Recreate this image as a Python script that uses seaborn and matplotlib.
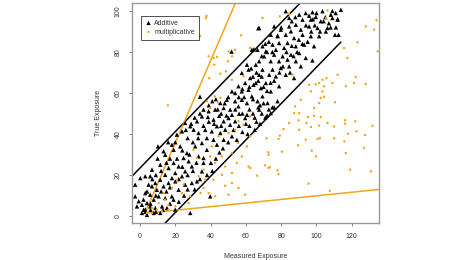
import matplotlib
matplotlib.use("Agg")
import matplotlib.pyplot as plt
import seaborn as sns
import pandas as pd

# Additive error points (black triangles)
add_x = [38.5, 41.7, 44.9, 47.4, 50.2, 52.1, 53.9, 56.2, 43.6, 40.7, 45.5, 48.3, 37.9, 33.2, 30.4, 28.5,
         32.3, 35.1, 25.6, 23.8, 20.9, 18.1, 10.2, 13.4, 19.1, 22.8, 26.6, 24.7, 27.6, 31.3, 35.1, 37.9,
         36.0, 29.4, 25.6, 21.9, 19.1, 16.2, 20.0, 23.8, 18.1, 14.3, 11.5, 8.7, 6.8, 4.9, 3.0, 5.8,
         9.6, 13.4, 16.2, 20.0, 21.9, 18.1, 14.3, 10.6, 7.8, 4.0, 1.1, -0.7, -2.7, -1.7, 3.0, 5.8,
         8.7, 12.5, 15.3, 20.0, 1.1, 4.0, 7.8, 11.5, 2.1, 28.5, 39.8, 32.3, 35.1, 29.4, 25.6, 33.2,
         41.7, 43.6, 47.4, 52.1, 54.9, 51.1, 59.6, 60.6, 40.2, 36.0, 14.3, 11.5, 6.8, 3.0, 5.8, 0.2,
         -2.7,
         63.4, 60.6, 61.5, 57.7, 62.4, 59.6, 55.8, 52.1, 57.7, 61.5, 49.2, 53.9, 45.5, 42.6, 47.4, 38.9,
         36.0, 51.1, 55.8, 60.6, 63.4, 57.7, 64.3, 53.9, 51.9, 34.0, 67.0, 64.5, 62.0, 65.0, 58.0, 68.0,
         64.0, 60.0,
         82.6, 90.2, 93.9, 95.8, 97.7, 99.6, 103.4, 108.1, 110.9, 113.8, 111.9, 109.0, 102.4, 96.8, 92.1, 88.3,
         84.5, 79.8, 76.0, 74.1, 77.9, 82.6, 85.5, 91.1, 95.8, 100.6, 106.2, 105.3, 110.5, 112.5, 101.5, 96.8,
         92.1, 87.3, 83.6, 78.8, 75.1, 69.4, 67.5, 66.6, 71.3, 77.0, 81.7, 88.3, 93.0, 98.6, 90.2, 85.5,
         80.8, 76.0, 70.3, 67.5, 74.1, 78.8, 83.6, 88.3, 93.9, 97.7, 91.1, 84.5, 79.8, 75.1, 69.4, 67.5,
         73.2, 77.0, 82.6, 87.3, 71.3, 68.5, 74.1, 78.8, 69.4, 66.6, 72.3, 77.9, 67.5, 74.1, 65.6, 65.6,
         84.5,
         62, 66, 69, 71, 73, 64, 67, 70, 61, 65, 68, 72, 75, 76,
         26, 29, 31, 34, 36, 39, 41, 43, 44, 46, 48, 50, 27, 30, 33, 37, 39, 42, 46, 49, 54, 56, 58, 59,
         62, 64, 66, 67, 69, 63, 70, 72, 74, 76, 79, 81, 85, 87, 89, 92, 95, 97, 99, 102, 104, 107, 109,
         86, 88, 80, 78, 73, 71, 69, 72, 75, 83, 86, 90, 94, 98, 100, 105, 108, 112, 111,
         2, 4, 6, 9, 12, 15, 17, 22, 24, 27, 30, 32, 28, 24, 21, 17, 15, 12, 9, 7, 10, 16, 20, 3,
         6, 9, 13, 17, 19, 22, 25, 27, 31, 34, 38, 41, 43, 45, 47, 50, 53, 56, 58]
add_y = [48.3, 47.0, 48.9, 46.2, 47.8, 49.4, 46.2, 49.9, 43.8, 41.3, 40.5, 42.1, 38.0, 40.5, 42.1, 43.8,
         46.2, 48.6, 45.4, 41.3, 39.7, 34.8, 34.0, 31.6, 32.3, 34.0, 30.7, 28.3, 26.7, 34.0, 35.6, 32.3,
         28.3, 24.2, 21.8, 24.2, 25.9, 23.4, 21.0, 19.4, 18.5, 20.1, 17.7, 16.1, 14.5, 15.3, 11.2, 10.4,
         12.8, 14.5, 16.1, 16.9, 12.8, 9.6, 8.8, 9.6, 8.0, 6.3, 5.5, 7.2, 9.6, 4.7, 3.1, 4.7,
         3.9, 4.7, 3.9, 3.1, 1.5, 0.6, 1.5, 1.5, 3.1, 1.5, 9.6, 16.9, 21.8, 16.1, 15.3, 29.1,
         37.2, 34.8, 37.2, 38.9, 37.2, 44.5, 47.8, 49.4, 25.9, 25.9, 29.9, 25.0, 22.6, 19.4, 19.4, 18.5,
         15.3,
         81.1, 73.8, 71.4, 69.8, 67.3, 64.9, 63.3, 60.8, 60.8, 61.6, 56.7, 56.0, 55.1, 51.9, 52.7, 51.1,
         51.9, 51.9, 53.5, 55.1, 58.4, 56.7, 64.0, 60.0, 80.2, 58.2, 91.6, 81.3, 52.0, 48.0, 50.0, 54.0,
         57.0, 45.0,
         99.9, 98.2, 99.0, 97.7, 99.4, 97.1, 99.9, 98.2, 99.0, 100.6, 95.8, 96.6, 95.0, 95.8, 95.8, 93.3,
         92.5, 90.9, 92.5, 88.4, 87.7, 88.4, 90.1, 90.9, 92.5, 91.7, 91.7, 90.0, 88.4, 88.4, 87.7, 87.7,
         88.4, 86.8, 84.4, 84.4, 83.6, 82.8, 91.7, 81.1, 80.3, 81.1, 82.0, 82.8, 83.6, 82.8, 79.5, 78.7,
         77.9, 78.7, 77.9, 75.5, 75.5, 75.5, 76.3, 75.5, 77.1, 75.9, 73.0, 73.0, 72.2, 71.4, 71.4, 68.9,
         68.9, 68.1, 68.9, 67.3, 64.9, 62.4, 60.8, 63.3, 58.4, 56.0, 55.1, 56.0, 51.9, 50.2, 64.9, 73.8,
         96.6,
         44, 46, 50, 48, 52, 50, 53, 55, 40, 42, 45, 49, 53, 53,
         42, 45, 48, 50, 44, 54, 56, 57, 52, 50, 55, 58, 38, 36, 38, 42, 46, 45, 44, 49, 52, 58, 62, 58,
         63, 68, 70, 66, 68, 72, 63, 61, 65, 66, 70, 73, 70, 78, 80, 84, 85, 90, 93, 90, 95, 94, 100,
         95, 97, 92, 88, 85, 84, 78, 80, 80, 80, 83, 86, 93, 96, 99, 97, 92, 96, 92,
         8, 12, 6, 10, 12, 12, 14, 18, 24, 20, 22, 26, 30, 32, 28, 28, 26, 22, 20, 18, 28, 36, 36, 2,
         3, 2, 3, 6, 8, 7, 10, 13, 13, 18, 20, 22, 28, 31, 33, 36, 42, 44, 41]

# Multiplicative error points (orange dots)
mult_x = [89.8, 95.3, 98.6, 102.4, 84.5, 94.3, 96.8, 101.5, 106.2, 110.0, 116.2, 116.2, 121.9, 131.7, 90.2, 81.3,
          79.2, 78.5, 71.7, 93.9, 100.6, 101.9, 110.0, 117.9, 122.6, 127.5, 115.8, 89.6, 97.3, 99.6, 126.9, 116.6,
          72.8, 72.8, 80.4, 70.9, 72.8, 73.5, 66.4, 77.9, 78.5, 119.0, 130.9, 95.5, 107.5,
          127.9, 132.6, 134.0, 134.7, 123.2, 115.6, 117.5, 111.9, 122.2, 127.9, 121.3, 116.6, 109.0, 105.6, 103.4, 101.5,
          99.6, 104.3, 103.4, 102.4, 104.3, 96.8, 101.5, 91.1, 87.9, 98.6, 110.5, 95.8, 90.2, 69.4, 79.2, 84.5,
          105.3, 106.2, 86.4, 87.3,
          37.4, 57.3, 50.2, 52.1, 53.9, 38.9, 41.7, 43.6, 42.1, 49.8, 48.7, 45.5, 39.2, 52.1, 34.1, 15.8,
          42.3, 37.9, 45.5, 44.3, 39.8, 62.4, 58.7, 37.7,
          60.6, 57.7, 61.5, 62.4, 52.1, 46.4, 41.7, 52.1, 48.3, 55.8, 59.6, 50.2, 42.6, 38.9, 36.0, 34.3,
          54.9, 62.4, 55.5, 52.1, 46.4, 42.6, 48.3,
          30.4, 32.3, 23.8, 14.3, 13.4, 10.6, 6.8, 16.2, 20.0, 27.6, 28.5, 33.2, 37.0, 36.0, 40.7, 39.8,
          44.5, 50.2, 53.9, 55.8, 62.4, 58.7, 24.7, 21.0, 18.1, 9.6, 12.5, 4.0, 6.8, 16.2]
mult_y = [46.7, 48.3, 48.9, 48.3, 45.4, 45.4, 43.4, 44.1, 45.4, 43.7, 46.7, 45.0, 46.2, 44.0, 42.1, 42.4,
          39.2, 37.6, 37.9, 37.2, 37.6, 38.0, 37.9, 40.1, 41.3, 39.5, 36.4, 34.5, 31.9, 29.1, 33.3, 30.7,
          31.1, 29.8, 31.4, 24.7, 23.4, 23.9, 19.7, 22.3, 20.5, 22.6, 21.8, 15.8, 12.3,
          92.5, 90.9, 95.5, 80.3, 84.7, 81.9, 77.1, 68.9, 67.8, 64.4, 64.9, 63.3, 64.9, 67.3, 66.5, 64.9,
          64.2, 63.3, 60.8, 57.6, 58.2, 60.8, 55.1, 56.7, 53.5, 52.7, 55.5, 64.0, 50.2, 96.6, 97.4, 98.6,
          96.6, 100.3, 68.9, 50.2,
          96.6, 88.1, 80.3, 77.9, 81.1, 77.9, 77.1, 77.6, 73.8, 75.5, 70.6, 69.4, 67.2, 66.5, 87.7, 54.0,
          58.4, 56.0, 57.6, 55.3, 52.7, 82.0, 68.1, 97.6,
          34.0, 29.1, 24.2, 23.4, 21.0, 20.1, 17.7, 16.1, 14.8, 13.7, 10.4, 10.4, 9.6, 11.2, 13.7, 11.2,
          25.9, 38.9, 35.6, 30.7, 29.1, 25.9, 24.2,
          32.3, 28.3, 11.2, 8.0, 11.2, 6.3, 3.9, 5.5, 4.7, 6.3, 9.6, 19.4, 17.7, 22.6, 34.0, 29.1,
          38.9, 40.5, 42.1, 46.2, 48.6, 44.5, 15.3, 17.7, 13.7, 3.1, 2.3, 1.5, 1.5, 3.1]

# reference lines (slope, intercept, x start, x end)
band_slope = 0.887
band_upper = 23.4
band_lower = -16.1
band_x = [-10, 113.8]
fan_origin = (2.8, 1.3)
fan_steep = 2.0
fan_flat = 0.088

x_ticks = [0, 20, 40, 60, 80, 100, 120]
y_ticks = [0, 20, 40, 60, 80, 100]

orange = "#f5a31a"
txt = "#333333"

sns.set_theme(style="white")
plt.rcParams["font.family"] = ["Liberation Sans", "DejaVu Sans"]

fig = plt.figure(figsize=(4.74, 2.60), dpi=100)
ax = fig.add_axes([132 / 474, 1 - 223 / 260, 247 / 474, 220 / 260])

add_df = pd.DataFrame({"x": add_x, "y": add_y})
mult_df = pd.DataFrame({"x": mult_x, "y": mult_y})

sns.scatterplot(data=add_df, x="x", y="y", marker="^", s=10, color="black",
                edgecolor="none", linewidth=0, ax=ax, label="Additive", zorder=3)
sns.scatterplot(data=mult_df, x="x", y="y", marker="o", s=3, color=orange,
                edgecolor="none", linewidth=0, ax=ax, label="multiplicative", zorder=3)

for b in (band_upper, band_lower):
    ax.plot(band_x, [band_slope * v + b for v in band_x], color="black", lw=1.1, zorder=2)
x0, y0 = fan_origin
for sl in (fan_steep, fan_flat):
    ax.plot([x0, 140], [y0, y0 + sl * (140 - x0)], color=orange, lw=1.1, zorder=2)

ax.set_xlim(-4.5, 135.4)
ax.set_ylim(-3.4, 103.9)
ax.set_xticks(x_ticks)
ax.set_yticks(y_ticks)
ax.tick_params(axis="both", direction="out", length=2.5, width=0.6, color="#666666",
               labelsize=5, labelcolor=txt, pad=5, bottom=True, left=True)
for lab in ax.get_yticklabels():
    lab.set_rotation(90)
    lab.set_va("center")
for sp in ax.spines.values():
    sp.set_color("#999999")
    sp.set_linewidth(1.0)

ax.set_xlabel("Measured Exposure", fontsize=5, color=txt, labelpad=9)
ax.set_ylabel("True Exposure", fontsize=5, color=txt, labelpad=9)

leg = ax.legend(loc="upper left", bbox_to_anchor=(0.036, 0.943), fontsize=5, frameon=True,
                fancybox=False, borderpad=0.6, handletextpad=0.3, handlelength=1.0,
                labelspacing=0.3, borderaxespad=0)
leg.get_frame().set_edgecolor("black")
leg.get_frame().set_linewidth(0.6)
for t in leg.get_texts():
    t.set_color(txt)

fig.savefig("out.png", dpi=100)
